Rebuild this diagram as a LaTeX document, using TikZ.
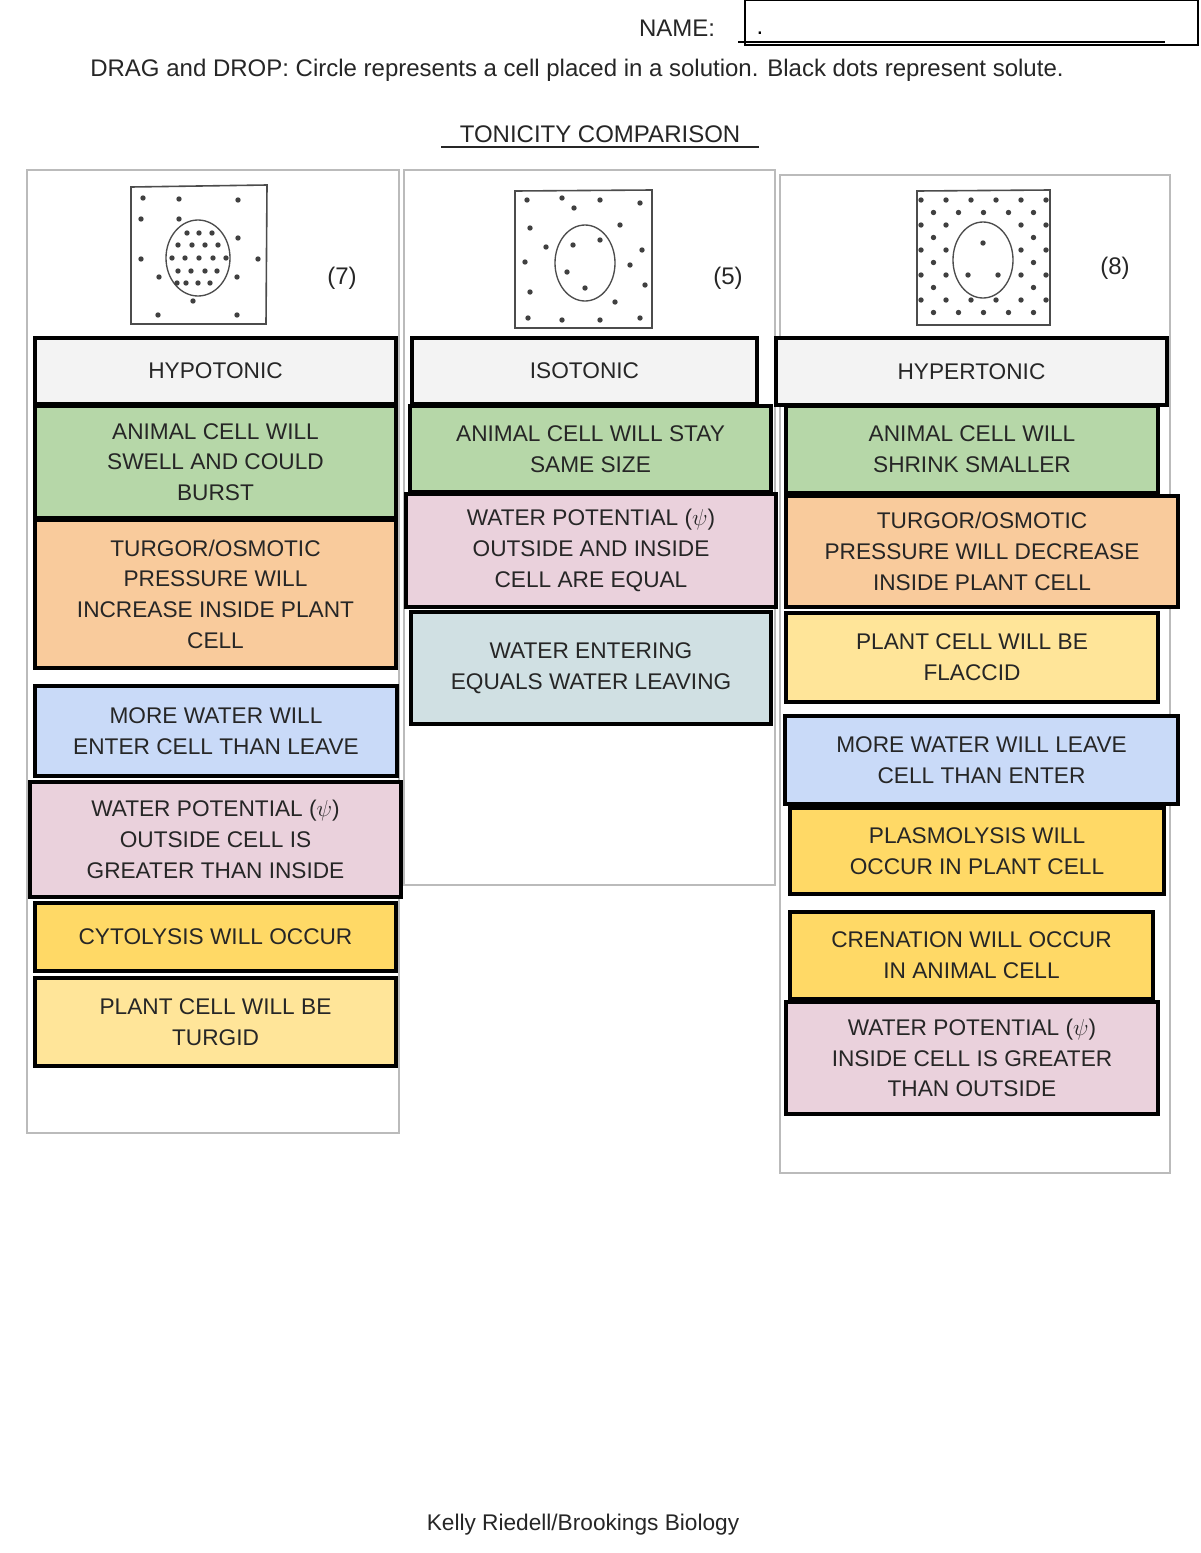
\documentclass[tikz,border=0pt]{standalone}
\usepackage{fontspec}
\setmainfont{Liberation Sans}
\definecolor{cgreen}{HTML}{B6D7A8}
\definecolor{corange}{HTML}{F9CB9C}
\definecolor{cblue}{HTML}{C9DAF8}
\definecolor{cpink}{HTML}{EAD1DC}
\definecolor{cyellow}{HTML}{FFE599}
\definecolor{cdyellow}{HTML}{FFD966}
\definecolor{cteal}{HTML}{D0E0E3}
\definecolor{chead}{HTML}{F3F3F3}
\definecolor{cpanel}{HTML}{BBBBBB}
\newcommand{\card}[7]{%
  \draw[cardframe, fill=#6] (#2,#3) rectangle (#4,#5);
  \node[cardtext] (#1) at ({(#2+#4)/2},{(#3+#5)/2}) {#7};}
\begin{document}
\begin{tikzpicture}[x=0.75pt,y=-0.75pt,
  cardframe/.style={line width=2.4pt,draw=black},
  cardtext/.style={align=center,font=\fontsize{17}{23}\selectfont,text=black!85,inner sep=0pt},
  panel/.style={draw=cpanel,line width=0.8pt},
  sq/.style={draw=black!70,line width=1.2pt},
  dot/.style={fill=black!75}]
\useasboundingbox (0,0) rectangle (1200,1553);
\fill[white] (0,0) rectangle (1200,1553);
% header
\node[font=\fontsize{18}{20}\selectfont,text=black!85] (name) at (677,28) {NAME:};
\draw[line width=1.2pt] (745,0) rectangle (1198,45);
\draw[line width=1pt] (738,42) -- (1165,42);
\node[font=\fontsize{18}{20}\selectfont] (dotn) at (760,33) {.};
\node[font=\fontsize{18}{20}\selectfont,text=black!85] (instr) at (577,70) {DRAG and DROP: Circle represents a cell placed in a solution. Black dots represent solute.};
\node[font=\fontsize{18}{20}\selectfont,text=black!85] (title) at (600,134) {TONICITY COMPARISON};
\draw[black!85,line width=0.9pt] (441,147) -- (759,147);
\node[font=\fontsize{17}{20}\selectfont,text=black!85] (foot) at (583,1525) {Kelly Riedell/Brookings Biology};
% panels
\draw[panel] (27,170) rectangle (399,1133);
\draw[panel] (404,170) rectangle (775,885);
\draw[panel] (780,175) rectangle (1170,1173);
% cell pictures
\draw[sq] (131,187) -- (267,185) -- (266,324) -- (131,324) -- cycle;
\draw[black!70,line width=1pt] (198,258) ellipse (32 and 38);
\foreach \p in {(143,198),(179,199),(238,200),(141,219),(179,219),(238,238),(141,259),(258,259),(159,277),(237,277),(193,301),(158,315),(237,315),
 (187,233),(199,233),(212,233),(178,245),(192,245),(205,245),(218,245),(172,258),(185,258),(199,258),(213,258),(226,258),(178,271),(191,271),(205,271),(217,271),(177,283),(186,283),(198,283),(210,283)}
  \fill[dot] \p circle (2.7);
\node[font=\fontsize{18}{20}\selectfont,text=black!85] (n7) at (342,278) {(7)};
\draw[sq] (515,191) -- (652,190) -- (652,328) -- (515,328) -- cycle;
\draw[black!70,line width=1pt] (585,263) ellipse (30 and 38);
\foreach \p in {(527,200),(562,198),(600,200),(640,203),(530,228),(620,225),(642,250),(525,262),(645,285),(530,292),(615,302),(528,318),(562,320),(600,320),(640,318),(546,247),(630,265),(574,208),
 (573,245),(600,240),(585,288),(567,272)}
  \fill[dot] \p circle (2.7);
\node[font=\fontsize{18}{20}\selectfont,text=black!85] (n5) at (728,278) {(5)};
\draw[sq] (917,191) -- (1050,190) -- (1050,325) -- (917,325) -- cycle;
\draw[black!70,line width=1pt] (983,260) ellipse (30 and 38);
\foreach \k in {0,...,9}{\foreach \j in {0,...,5}{%
  \pgfmathsetmacro\xx{921+25*\j+12.5*mod(\k,2)}
  \pgfmathsetmacro\yy{200+12.5*\k}
  \pgfmathsetmacro\dd{((\xx-983)/34)^2+((\yy-260)/42)^2}
  \pgfmathsetmacro\ok{and(\dd>1,\xx<1049)}
  \ifdim\ok pt>0.5pt \fill[dot] (\xx,\yy) circle (2.7);\fi}}
\foreach \p in {(983,243),(968,275),(998,275)} \fill[dot] \p circle (2.7);
\node[font=\fontsize{18}{20}\selectfont,text=black!85] (n8) at (1115,268) {(8)};
% column 1
\card{h1}{35}{338}{396}{404}{chead}{HYPOTONIC}
\card{a1}{35}{406}{396}{518}{cgreen}{ANIMAL CELL WILL\\SWELL AND COULD\\BURST}
\card{b1}{35}{520}{396}{668}{corange}{TURGOR/OSMOTIC\\PRESSURE WILL\\INCREASE INSIDE PLANT\\CELL}
\card{c1}{35}{686}{397}{776}{cblue}{MORE WATER WILL\\ENTER CELL THAN LEAVE}
\card{d1}{30}{782}{401}{897}{cpink}{WATER POTENTIAL ($\psi$)\\OUTSIDE CELL IS\\GREATER THAN INSIDE}
\card{e1}{35}{903}{396}{971}{cdyellow}{CYTOLYSIS WILL OCCUR}
\card{f1}{35}{978}{396}{1066}{cyellow}{PLANT CELL WILL BE\\TURGID}
% column 2
\card{h2}{412}{338}{757}{404}{chead}{ISOTONIC}
\card{a2}{410}{406}{771}{492}{cgreen}{ANIMAL CELL WILL STAY\\SAME SIZE}
\card{b2}{406}{494}{776}{607}{cpink}{WATER POTENTIAL ($\psi$)\\OUTSIDE AND INSIDE\\CELL ARE EQUAL}
\card{c2}{411}{612}{771}{724}{cteal}{WATER ENTERING\\EQUALS WATER LEAVING}
% column 3
\card{h3}{776}{338}{1167}{405}{chead}{HYPERTONIC}
\card{a3}{786}{406}{1158}{493}{cgreen}{ANIMAL CELL WILL\\SHRINK SMALLER}
\card{b3}{786}{496}{1178}{607}{corange}{TURGOR/OSMOTIC\\PRESSURE WILL DECREASE\\INSIDE PLANT CELL}
\card{c3}{786}{613}{1158}{702}{cyellow}{PLANT CELL WILL BE\\FLACCID}
\card{d3}{785}{716}{1178}{804}{cblue}{MORE WATER WILL LEAVE\\CELL THAN ENTER}
\card{e3}{790}{808}{1164}{894}{cdyellow}{PLASMOLYSIS WILL\\OCCUR IN PLANT CELL}
\card{f3}{790}{912}{1153}{999}{cdyellow}{CRENATION WILL OCCUR\\IN ANIMAL CELL}
\card{g3}{786}{1002}{1158}{1114}{cpink}{WATER POTENTIAL ($\psi$)\\INSIDE CELL IS GREATER\\THAN OUTSIDE}
\end{tikzpicture}
\end{document}
